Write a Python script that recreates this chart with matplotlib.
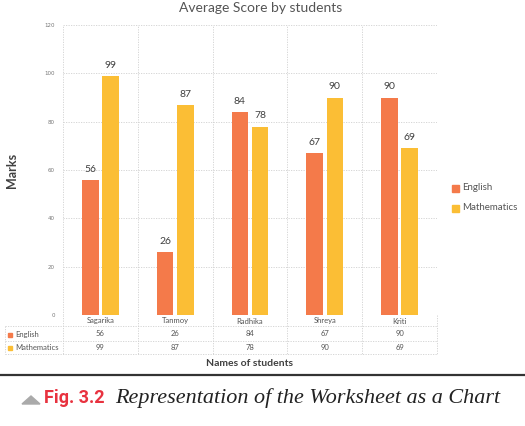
import matplotlib.pyplot as plt
import matplotlib.transforms as mtransforms
from matplotlib.patches import Polygon, Rectangle
import numpy as np

# data
students = ['Sagarika', 'Tanmoy', 'Radhika', 'Shreya', 'Kriti']
english = [56, 26, 84, 67, 90]
maths = [99, 87, 78, 90, 69]
series_names = ['English', 'Mathematics']
colors = ['#F47A4A', '#FBBE35']
title = 'Average Score by students'

W, H = 525, 426


def fx(px):
    return px / W


def fy(py):
    return 1 - py / H


fig = plt.figure(figsize=(W / 100, H / 100), dpi=100)
fig.patch.set_facecolor('white')

# plot area
ax = fig.add_axes([fx(63), fy(315), fx(437) - fx(63), fy(25) - fy(315)])
x = np.arange(len(students))
bw = 0.22
off = 0.135
b1 = ax.bar(x - off, english, bw, color=colors[0], zorder=3)
b2 = ax.bar(x + off, maths, bw, color=colors[1], zorder=3)

for bars in (b1, b2):
    for r in bars:
        ax.text(r.get_x() + r.get_width() / 2, r.get_height() + 2.5,
                str(int(r.get_height())), ha='center', va='bottom',
                fontsize=7.5, color='#404040', family='Lato')

ax.set_xlim(-0.5, len(students) - 0.5)
ax.set_ylim(0, 120)
ax.set_yticks(range(0, 121, 20))
ax.set_yticklabels([str(v) for v in range(0, 121, 20)], fontsize=4,
                   color='#777777')
ax.set_xticks([])
ax.tick_params(axis='y', length=0, pad=6)
for s in ax.spines.values():
    s.set_visible(False)

grid_kw = dict(color='#D0D0D0', lw=0.6, ls=(0, (1.5, 1.5)), zorder=1)
for v in range(0, 121, 20):
    ax.axhline(v, **grid_kw)
for b in np.arange(-0.5, len(students), 1.0):
    ax.axvline(b, **grid_kw)

# data table under the chart
trans = mtransforms.blended_transform_factory(ax.transData, fig.transFigure)
ftrans = fig.transFigure
line_kw = dict(color='#D0D0D0', lw=0.6, ls=(0, (1.5, 1.5)))

for yy in (326, 341, 354):
    fig.add_artist(plt.Line2D([fx(5), fx(437)], [fy(yy), fy(yy)], **line_kw))
for b in np.arange(-0.5, len(students), 1.0):
    fig.add_artist(plt.Line2D([b, b], [fy(315), fy(354)], transform=trans,
                              **line_kw))
fig.add_artist(plt.Line2D([fx(5), fx(5)], [fy(326), fy(354)], **line_kw))

for i, name in enumerate(students):
    fig.text(i, fy(321), name, transform=trans, ha='center', va='center',
             fontsize=5.5, color='#555555', family='Lato')
for row, (vals, yy) in enumerate(((english, 334), (maths, 347))):
    for i, v in enumerate(vals):
        fig.text(i, fy(yy), str(v), transform=trans, ha='center',
                 va='center', fontsize=5.5, color='#555555', family='Lato')
    fig.add_artist(Rectangle((fx(8), fy(yy) - 0.006), 0.0075, 0.0095,
                             color=colors[row], transform=ftrans))
    fig.text(fx(15), fy(yy), series_names[row], ha='left', va='center',
             fontsize=5.5, color='#555555', family='Lato')

# legend
for row, yy in enumerate((188, 208)):
    fig.add_artist(Rectangle((fx(452), fy(yy) - 0.01), 0.0135, 0.017,
                             color=colors[row], transform=ftrans))
    fig.text(fx(462), fy(yy), series_names[row], ha='left', va='center',
             fontsize=7, color='#555555', family='Lato')

# titles
fig.text(fx(261), fy(8), title, ha='center', va='center', fontsize=10,
         color='#555555', family='Lato')
fig.text(fx(12), fy(170), 'Marks', ha='center', va='center', rotation=90,
         fontsize=9, fontweight='bold', color='#404040', family='Lato')
fig.text(fx(250), fy(364), 'Names of students', ha='center', va='center',
         fontsize=7.5, fontweight='bold', color='#404040', family='Lato')

# rule and caption
fig.add_artist(plt.Line2D([0, 1], [fy(375), fy(375)], color='#333333',
                          lw=1.6))
fig.add_artist(Polygon([[fx(22), fy(404)], [fx(40), fy(404)],
                        [fx(31), fy(396)]], closed=True, color='#AAAAAA',
                       transform=ftrans))
fig.text(fx(44), fy(398), 'Fig. 3.2', ha='left', va='center', fontsize=13,
         fontweight='bold', color='#E8323F', family='Roboto')
fig.text(fx(115), fy(398), 'Representation of the Worksheet as a Chart',
         ha='left', va='center', fontsize=15.9, style='italic',
         color='#222222', family='Liberation Serif')

fig.savefig('out.png', dpi=100)
